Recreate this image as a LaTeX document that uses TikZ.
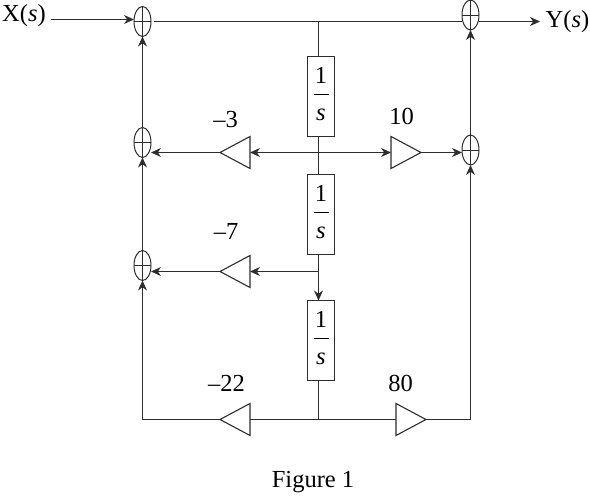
\documentclass[tikz,border=0pt]{standalone}
\usepackage{fontspec}
\setmainfont{Liberation Serif}
\usetikzlibrary{arrows.meta, positioning, shapes.geometric}
\definecolor{linegray}{RGB}{45, 45, 45}
\newcommand{\oneovers}{\raisebox{-9.7pt}{\begin{tabular}{@{}c@{}}1\\[-15pt]\rule{15pt}{1.1pt}\\[-1.5pt]\textit{s}\end{tabular}}}

\begin{document}
\begin{tikzpicture}[
  x=1pt, y=-1pt,
  font=\fontsize{24.5}{27}\selectfont,
  sumnode/.style={ellipse, draw=linegray, line width=1pt, inner sep=0pt, outer sep=0pt,
              minimum width=17pt, minimum height=30pt,
              path picture={
                \draw[line width=0.9pt, linegray] (path picture bounding box.north) -- (path picture bounding box.south);
                \draw[line width=0.9pt, linegray] (path picture bounding box.west) -- (path picture bounding box.east);
              }},
  intbox/.style={rectangle, draw=linegray, line width=1.2pt, inner sep=0pt, outer sep=0pt,
              minimum width=27pt, minimum height=80pt},
  amp/.style={isosceles triangle, isosceles triangle stretches, draw=linegray,
              line width=1.1pt, inner sep=0pt, outer sep=0pt, minimum width=32pt, minimum height=30pt},
  ampleft/.style={amp, shape border rotate=180},
  gain/.style={inner sep=0pt},
  wire/.style={line width=1.3pt, color=linegray},
  arrow/.style={wire, -{Stealth[length=10pt, width=9pt]}}
]
  \useasboundingbox (0,0) rectangle (590,497);

  % adders
  \node[sumnode] (sumA) at (142.5,21.5) {};
  \node[sumnode, below=91pt of sumA] (sumB) {};
  \node[sumnode, below=93pt of sumB] (sumC) {};
  \node[sumnode] (sumD) at (470.5,15) {};
  \node[sumnode] (sumE) at (470.5,150) {};

  % integrators
  \node[intbox] (intA) at (321,96.5) {\oneovers};
  \node[intbox, below=38pt of intA] (intB) {\oneovers};
  \node[intbox, below=46pt of intB] (intC) {\oneovers};

  % gains
  \node[ampleft, anchor=apex] (ampA) at (220,152.5) {};
  \node[amp, anchor=apex] (ampB) at (421,152.5) {};
  \node[ampleft, anchor=apex] (ampC) at (220,271.5) {};
  \node[ampleft, anchor=apex] (ampE) at (220,419.5) {};
  \node[amp, anchor=apex] (ampF) at (426,419.5) {};

  \node[gain] (gainA) at (225.5,120) {--3};
  \node[gain] (gainB) at (401.5,116) {10};
  \node[gain] (gainC) at (226,231) {--7};
  \node[gain] (gainE) at (226.5,383) {--22};
  \node[gain] (gainF) at (400.5,383) {80};

  \node[gain] (inp) at (24,16) {X(\textit{s})};
  \node[gain] (outp) at (567.5,22) {Y(\textit{s})};
  \node[gain] (caption) at (313,482) {Figure 1};

  \coordinate (xstart) at (51,19.5);
  \coordinate (sumAout) at (154,21.5);
  \coordinate (ytip) at (540,21.5);
  \coordinate (topjoin) at (318.5,21.5);
  \coordinate (branchA) at (318.5,152.5);
  \coordinate (branchB) at (318.5,271.5);
  \coordinate (branchC) at (318.5,419.5);

  % forward path
  \draw[arrow] (xstart) -- (xstart -| sumA.west);
  \draw[wire] (sumAout) -- (sumAout -| sumD.west);
  \draw[arrow] (sumAout -| sumD.east) -- (ytip);
  \draw[wire] (topjoin) -- (topjoin |- intA.north);
  \draw[wire] (topjoin |- intA.south) -- (topjoin |- intB.north);
  \draw[arrow] (topjoin |- intB.south) -- (topjoin |- intC.north);
  \draw[wire] (topjoin |- intC.south) -- (branchC);

  % feedback
  \draw[arrow] (branchA) -- (ampA.lower side);
  \draw[arrow] (ampA.apex) -- (sumB.east |- ampA.apex);
  \draw[arrow] (branchB) -- (ampC.lower side);
  \draw[arrow] (ampC.apex) -- (sumC.east |- ampC.apex);
  \draw[wire] (ampE.lower side) -- (ampF.lower side);
  \draw[arrow] (ampE.apex) -| (sumC.south);
  \draw[arrow] (sumC.north) -- (sumB.south);
  \draw[arrow] (sumB.north) -- (sumA.south);

  % feed forward
  \draw[arrow] (branchA) -- (ampB.lower side);
  \draw[arrow] (ampB.apex) -- (sumE.west |- ampB.apex);
  \draw[arrow] (ampF.apex) -| (sumE.south);
  \draw[arrow] (sumE.north) -- (sumD.south);
\end{tikzpicture}
\end{document}
